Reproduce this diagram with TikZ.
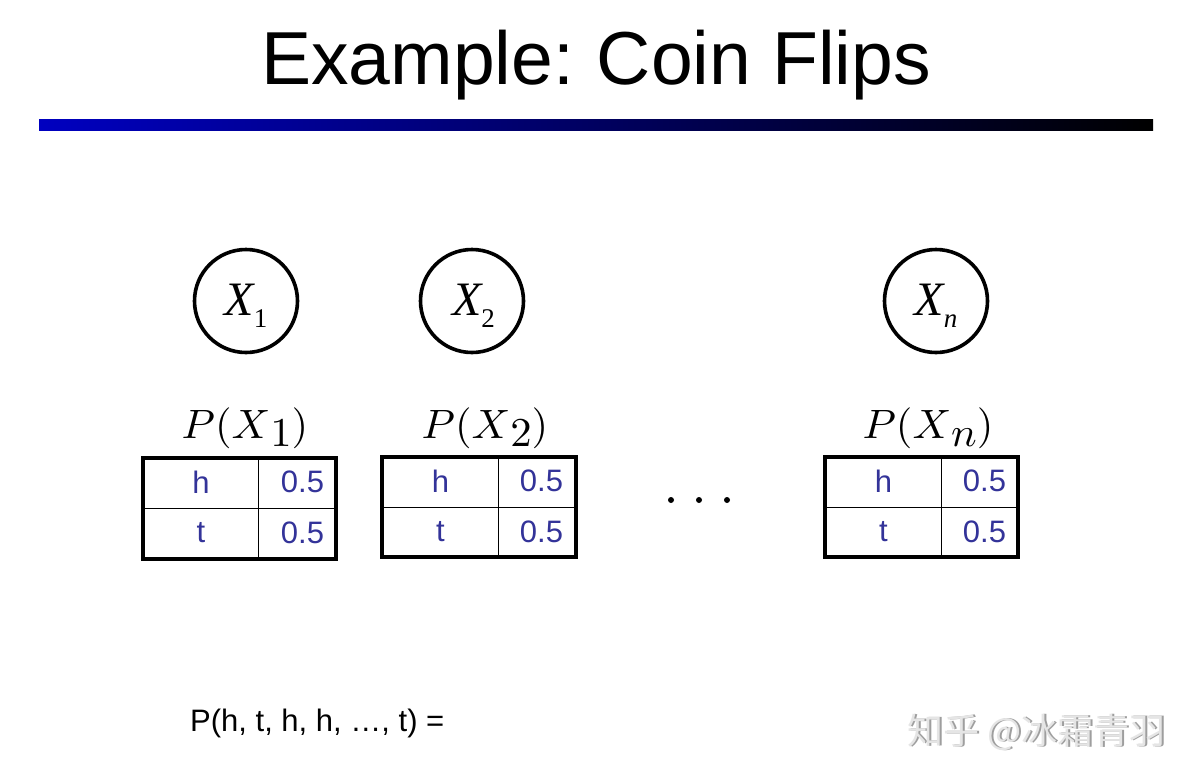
\documentclass[tikz,border=0pt]{standalone}
\usepackage{fontspec}
\setmainfont{Liberation Sans}
\newfontfamily\serifit{Liberation Serif}[ItalicFont=Liberation Serif Italic]
\newfontfamily\cjkwm{Noto Sans CJK SC}
\definecolor{cellblue}{HTML}{333399}
\definecolor{barblue}{HTML}{0000C0}
\newcommand{\rvar}[1]{{\serifit\fontsize{48}{48}\selectfont\itshape X\raisebox{-12pt}{\fontsize{27}{27}\selectfont #1}}}
\newcommand{\cptlabel}[1]{$P(X\raisebox{-1.9pt}{$#1$})$}
\tikzset{
  x=1pt,y=-1pt,
  rvnode/.style={circle,draw=black,line width=3.6pt,minimum size=103pt,inner sep=0pt},
  cpttitle/.style={inner sep=0pt,xscale=4.27,yscale=4.1},
  cptframe/.style={draw=black,line width=4pt,rectangle,inner sep=0pt,outer sep=0pt,anchor=north west},
  cptline/.style={draw=black,line width=1pt},
  celltext/.style={inner sep=0pt,text=cellblue,font=\fontsize{31}{31}\selectfont},
  dotmark/.style={circle,fill=black,inner sep=0pt,minimum size=6pt},
}
\newcommand{\cpt}[8]{% name, left, top, width, height, divider x offset, divider y offset, value x offset
  \node[cptframe,minimum width=#4pt,minimum height=#5pt] (#1) at (#2,#3) {};
  \coordinate (#1vt) at (#2+#6,#3);
  \coordinate (#1vb) at (#2+#6,#3+#5);
  \coordinate (#1hl) at (#2,#3+#7);
  \coordinate (#1hr) at (#2+#4,#3+#7);
  \draw[cptline] (#1vt) -- (#1vb);
  \draw[cptline] (#1hl) -- (#1hr);
  \node[celltext] (#1a) at (#2+#6/2+0.5,#3+24) {h};
  \node[celltext] (#1b) at (#2+#6/2+0.5,#3+#7+25) {t};
  \node[celltext] (#1c) at (#2+#6+#8,#3+24) {0.5};
  \node[celltext] (#1d) at (#2+#6+#8,#3+#7+25) {0.5};
}
\begin{document}
\begin{tikzpicture}
\useasboundingbox (0,0) rectangle (1197,780);
\fill[white] (0,0) rectangle (1197,780);
\node[inner sep=0pt,font=\fontsize{75.1}{75}\selectfont] (title) at (596,65) {Example:\hspace{-5pt} Coin Flips};
\shade[left color=barblue,right color=black,shading angle=90] (39,119) rectangle (1153,130);

\node[rvnode] (x1) at (246,301) {};
\node[rvnode] (x2) at (472,301) {};
\node[rvnode] (xn) at (936,301) {};
\node[inner sep=0pt] (x1t) at (246,306) {\rvar{\upshape 1}};
\node[inner sep=0pt] (x2t) at (473.5,306) {\rvar{\upshape 2}};
\node[inner sep=0pt] (xnt) at (936,306) {\rvar{n}};

\node[cpttitle] (p1) at (245,428) {\cptlabel{1}};
\node[cpttitle] (p2) at (485,428) {\cptlabel{2}};
\node[cpttitle] (pn) at (928,428) {\cptlabel{n}};

\cpt{ta}{143}{458}{193}{101}{115}{50}{44.5}
\cpt{tb}{382}{457}{194}{100}{116}{50}{43.5}
\cpt{tc}{825}{457}{193}{100}{116}{50}{43.5}

\node[dotmark] (d1) at (671,500) {};
\node[dotmark] (d2) at (699,500) {};
\node[dotmark] (d3) at (727,500) {};

\node[inner sep=0pt,anchor=west,font=\fontsize{31}{31}\selectfont] (eq) at (190,723) {P(h, t, h, h, …, t) =};

\node[inner sep=0pt,anchor=west,text=black!38,font=\cjkwm\fontsize{36}{36}\selectfont] at (908.8,732.8) {知乎 @冰霜青羽};
\node[inner sep=0pt,anchor=west,text=black!10,font=\cjkwm\fontsize{36}{36}\selectfont] (wm) at (907.6,732) {知乎 @冰霜青羽};
\end{tikzpicture}
\end{document}
